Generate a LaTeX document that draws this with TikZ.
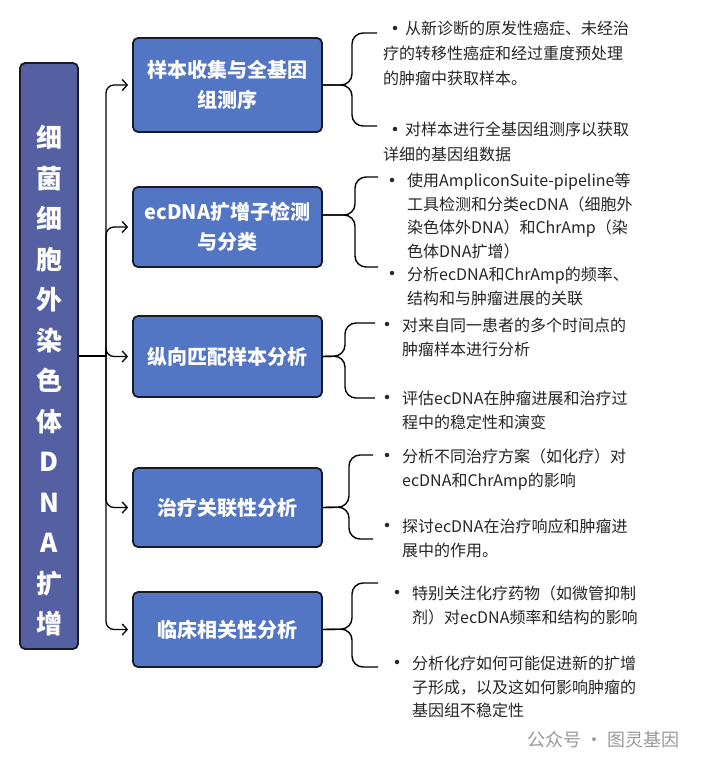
\documentclass[tikz,border=0pt]{standalone}
\usepackage{fontspec}
\setmainfont{Noto Sans CJK SC}
\usetikzlibrary{arrows.meta}
\definecolor{rootc}{HTML}{5560A2}
\definecolor{boxc}{HTML}{5275C4}
\definecolor{edgec}{HTML}{1B1B28}
\begin{document}
\begin{tikzpicture}[x=1pt,y=-1pt,
  rootbox/.style={draw=edgec,line width=1.8pt,fill=rootc,rounded corners=5pt,minimum width=58pt,minimum height=586pt,inner sep=0pt},
  roottxt/.style={text=white,font=\fontsize{26}{40.5}\selectfont\bfseries,align=center,inner sep=0pt},
  stepbox/.style={draw=edgec,line width=1.8pt,fill=boxc,rounded corners=5pt,text=white,
    font=\fontsize{20}{30}\selectfont\bfseries,align=center,minimum width=189pt,inner sep=0pt},
  arr/.style={draw=black,line width=1.3pt,rounded corners=8pt,-{Straight Barb[length=5pt,width=11pt]},shorten >=4pt},
  brace/.style={draw=black,line width=1.4pt,rounded corners=11pt},
  txt/.style={anchor=north west,inner sep=0pt,align=left,font=\fontsize{16}{23.5}\selectfont,text=black!85},
  txta/.style={txt,font=\fontsize{16}{25}\selectfont},
  bul/.style={circle,fill=black!85,inner sep=0pt,minimum size=4.5pt}]
\useasboundingbox (0,0) rectangle (706,766);
\fill[white] (0,0) rectangle (706,766);

\node[rootbox] (root) at (49,356) {};
\node[roottxt] (rootlabel) at (49,381) {细\\菌\\细\\胞\\外\\染\\色\\体\\D\\N\\A\\扩\\增};

\node[stepbox,minimum height=94pt] (b1) at (227.5,85) {样本收集与全基因\\组测序};
\node[stepbox,minimum height=80pt] (b2) at (227.5,227) {ecDNA扩增子检测\\与分类};
\node[stepbox,minimum height=81pt] (b3) at (227.5,356.5) {纵向匹配样本分析};
\node[stepbox,minimum height=79pt] (b4) at (227.5,507.5) {治疗关联性分析};
\node[stepbox,minimum height=75pt] (b5) at (227.5,629.5) {临床相关性分析};

\coordinate (j) at (106,356);
\draw[line width=1.3pt] (root.east) -- (j);
\foreach \b in {b1,b2,b3,b4,b5}{\draw[arr] (j) |- (\b.west);}

% braces
\draw[brace] (b1.east) -- (352,85) -- (352,33) -- (377,33);
\draw[brace] (b1.east) -- (352,85) -- (352,126) -- (377,126);
\coordinate (m2) at (322,215);
\draw[brace] (m2) -- (355,215) -- (355,177) -- (378,177);
\draw[brace] (m2) -- (355,215) -- (355,267) -- (378,267);
\draw[brace] (b3.east) -- (345,356) -- (345,323) -- (375,323);
\draw[brace] (b3.east) -- (345,356) -- (345,398) -- (375,398);
\draw[brace] (b4.east) -- (349,507) -- (349,455) -- (373,455);
\draw[brace] (b4.east) -- (349,507) -- (349,539) -- (373,539);
\draw[brace] (b5.east) -- (352,629) -- (352,583) -- (378,583);
\draw[brace] (b5.east) -- (352,629) -- (352,667) -- (378,667);

% texts
\node[bul] (u11) at (395,28) {};
\node[txta] (t11) at (383,21) {\hspace{22pt}从新诊断的原发性癌症、未经治\\疗的转移性癌症和经过重度预处理\\的肿瘤中获取样本。};
\node[bul] (u12) at (395,129) {};
\node[txta] (t12) at (383,122) {\hspace{22pt}对样本进行全基因组测序以获取\\详细的基因组数据};

\node[bul] (u21) at (392,180) {};
\node[txt] (t21) at (407,173) {使用AmpliconSuite-pipeline等\\工具检测和分类ecDNA（细胞外\\染色体外DNA）和ChrAmp（染\\色体DNA扩增）};
\node[bul] (u22) at (392,273) {};
\node[txt] (t22) at (407,267) {分析ecDNA和ChrAmp的频率、\\结构和与肿瘤进展的关联};

\node[bul] (u31) at (387,324) {};
\node[txt] (t31) at (402,318) {对来自同一患者的多个时间点的\\肿瘤样本进行分析};
\node[bul] (u32) at (387,397) {};
\node[txt] (t32) at (402,391) {评估ecDNA在肿瘤进展和治疗过\\程中的稳定性和演变};

\node[bul] (u41) at (387,455) {};
\node[txt] (t41) at (402,449) {分析不同治疗方案（如化疗）对\\ecDNA和ChrAmp的影响};
\node[bul] (u42) at (387,525) {};
\node[txt] (t42) at (402,519) {探讨ecDNA在治疗响应和肿瘤进\\展中的作用。};

\node[bul] (u51) at (397,592) {};
\node[txt] (t51) at (412,586) {特别关注化疗药物（如微管抑制\\剂）对ecDNA频率和结构的影响};
\node[bul] (u52) at (397,662) {};
\node[txt] (t52) at (412,656) {分析化疗如何可能促进新的扩增\\子形成，以及这如何影响肿瘤的\\基因组不稳定性};

\node[anchor=west,inner sep=0pt,text=black!40,font=\fontsize{18}{20}\selectfont] (wm) at (527,740) {公众号 · 图灵基因};
\end{tikzpicture}
\end{document}
